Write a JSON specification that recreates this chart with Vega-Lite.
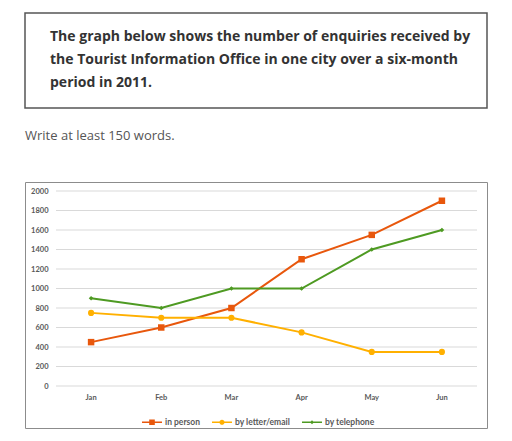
{
  "$schema": "https://vega.github.io/schema/vega-lite/v6.json",
  "background": "white",
  "padding": {"left": 24, "top": 12, "right": 0, "bottom": 0},
  "autosize": {"type": "pad"},
  "spacing": 74,
  "bounds": "flush",
  "config": {
    "font": "Lato",
    "axis": {"labelFont": "Lato", "labelFontSize": 7.5, "labelFontWeight": "bold", "labelColor": "#595959"}
  },
  "vconcat": [
    {
      "width": 462,
      "height": 95,
      "view": {"stroke": "#555555", "strokeWidth": 1.5},
      "title": {
        "text": [
          "The graph below shows the number of enquiries received by",
          "the Tourist Information Office in one city over a six-month",
          "period in 2011."
        ],
        "anchor": "start",
        "frame": "group",
        "font": "Open Sans",
        "fontSize": 14,
        "fontWeight": "bold",
        "color": "#333333",
        "lineHeight": 23,
        "dx": 25,
        "offset": -77
      },
      "data": {"values": []},
      "mark": "text",
      "encoding": {}
    },
    {
      "width": 462,
      "height": 246,
      "view": {"stroke": "#8c8c8c", "strokeWidth": 1},
      "title": {
        "text": "Write at least 150 words.",
        "anchor": "start",
        "frame": "group",
        "font": "Open Sans",
        "fontSize": 13,
        "fontWeight": "normal",
        "color": "#555555",
        "offset": 39
      },
      "data": {
        "values": [
          {"Month": "Jan", "Series": "in person", "Enquiries": 450},
          {"Month": "Feb", "Series": "in person", "Enquiries": 600},
          {"Month": "Mar", "Series": "in person", "Enquiries": 800},
          {"Month": "Apr", "Series": "in person", "Enquiries": 1300},
          {"Month": "May", "Series": "in person", "Enquiries": 1550},
          {"Month": "Jun", "Series": "in person", "Enquiries": 1900},
          {"Month": "Jan", "Series": "by letter/email", "Enquiries": 750},
          {"Month": "Feb", "Series": "by letter/email", "Enquiries": 700},
          {"Month": "Mar", "Series": "by letter/email", "Enquiries": 700},
          {"Month": "Apr", "Series": "by letter/email", "Enquiries": 550},
          {"Month": "May", "Series": "by letter/email", "Enquiries": 350},
          {"Month": "Jun", "Series": "by letter/email", "Enquiries": 350},
          {"Month": "Jan", "Series": "by telephone", "Enquiries": 900},
          {"Month": "Feb", "Series": "by telephone", "Enquiries": 800},
          {"Month": "Mar", "Series": "by telephone", "Enquiries": 1000},
          {"Month": "Apr", "Series": "by telephone", "Enquiries": 1000},
          {"Month": "May", "Series": "by telephone", "Enquiries": 1400},
          {"Month": "Jun", "Series": "by telephone", "Enquiries": 1600}
        ]
      },
      "layer": [
        {
          "data": {
            "values": [
              {"v": 0}, {"v": 200}, {"v": 400}, {"v": 600}, {"v": 800}, {"v": 1000},
              {"v": 1200}, {"v": 1400}, {"v": 1600}, {"v": 1800}, {"v": 2000}
            ]
          },
          "mark": {"type": "rule", "strokeWidth": 1},
          "encoding": {
            "y": {"field": "v", "type": "quantitative"},
            "x": {"datum": "Jan", "bandPosition": 0},
            "x2": {"datum": "Jun", "bandPosition": 1},
            "color": {"value": "#d9d9d9"}
          }
        },
        {
          "mark": {"type": "line", "strokeWidth": 2},
          "encoding": {
            "x": {"field": "Month", "type": "nominal", "bandPosition": 0.5},
            "y": {"field": "Enquiries", "type": "quantitative"},
            "color": {"field": "Series", "type": "nominal"}
          }
        },
        {
          "transform": [{"filter": "datum.Series === 'in person'"}],
          "mark": {"type": "point", "filled": true, "opacity": 1, "shape": "square", "size": 42},
          "encoding": {
            "x": {"field": "Month", "type": "nominal", "bandPosition": 0.5},
            "y": {"field": "Enquiries", "type": "quantitative"},
            "color": {"field": "Series", "type": "nominal"}
          }
        },
        {
          "transform": [{"filter": "datum.Series === 'by letter/email'"}],
          "mark": {"type": "point", "filled": true, "opacity": 1, "shape": "circle", "size": 38},
          "encoding": {
            "x": {"field": "Month", "type": "nominal", "bandPosition": 0.5},
            "y": {"field": "Enquiries", "type": "quantitative"},
            "color": {"field": "Series", "type": "nominal"}
          }
        },
        {
          "transform": [{"filter": "datum.Series === 'by telephone'"}],
          "mark": {"type": "point", "filled": true, "opacity": 1, "shape": "diamond", "size": 22},
          "encoding": {
            "x": {"field": "Month", "type": "nominal", "bandPosition": 0.5},
            "y": {"field": "Enquiries", "type": "quantitative"},
            "color": {"field": "Series", "type": "nominal"}
          }
        }
      ],
      "encoding": {
        "x": {
          "field": "Month",
          "type": "nominal",
          "sort": ["Jan", "Feb", "Mar", "Apr", "May", "Jun"],
          "title": null,
          "scale": {
            "type": "band",
            "domain": ["Jan", "Feb", "Mar", "Apr", "May", "Jun"],
            "range": [31, 452],
            "paddingInner": 0,
            "paddingOuter": 0
          },
          "axis": {
            "labelAngle": 0,
            "domain": false,
            "ticks": false,
            "grid": false,
            "offset": -42,
            "labelPadding": 7,
            "labelBaseline": "top"
          }
        },
        "y": {
          "field": "Enquiries",
          "type": "quantitative",
          "title": null,
          "scale": {"domain": [0, 2000], "range": [204, 9], "nice": false},
          "axis": {
            "values": [0, 200, 400, 600, 800, 1000, 1200, 1400, 1600, 1800, 2000],
            "domain": false,
            "ticks": false,
            "grid": false,
            "offset": -23,
            "labelPadding": 0,
            "format": "d"
          }
        },
        "color": {
          "field": "Series",
          "type": "nominal",
          "scale": {
            "domain": ["in person", "by letter/email", "by telephone"],
            "range": ["#e8570c", "#ffb000", "#4e9a22"]
          },
          "legend": {
            "title": null,
            "orient": "none",
            "direction": "horizontal",
            "legendX": 117,
            "legendY": 399,
            "labelFont": "Lato",
            "labelFontSize": 8.5,
            "labelFontWeight": "bold",
            "labelColor": "#595959",
            "labelOffset": 3,
            "columnPadding": 12,
            "symbolSize": 400,
            "symbolStrokeWidth": 0,
            "symbolType": "M-1,-0.08H1V0.08H-1Z",
            "encode": {
              "symbols": {
                "update": {
                  "fill": {"scale": "color", "field": "value"},
                  "fillOpacity": {"value": 1},
                  "strokeWidth": {"value": 0},
                  "shape": {
                    "signal": "datum.value === 'in person' ? 'M-1,-0.08H1V0.08H-1Z M-0.28,-0.28H0.28V0.28H-0.28Z' : datum.value === 'by letter/email' ? 'M-1,-0.08H1V0.08H-1Z M0.26,0 A0.26,0.26 0 1,1 -0.26,0 A0.26,0.26 0 1,1 0.26,0Z' : 'M-1,-0.08H1V0.08H-1Z M0,-0.2L0.2,0L0,0.2L-0.2,0Z'"
                  }
                }
              }
            }
          }
        }
      }
    }
  ]
}
